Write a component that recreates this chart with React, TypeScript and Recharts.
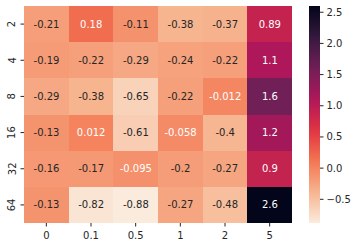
import { Bar, BarChart, Cell, XAxis, YAxis } from "recharts"

const rowLabels = ["2", "4", "8", "16", "32", "64"]
const colLabels = ["0", "0.1", "0.5", "1", "2", "5"]

const row2 = [-0.21, 0.18, -0.11, -0.38, -0.37, 0.89]
const row4 = [-0.19, -0.22, -0.29, -0.24, -0.22, 1.1]
const row8 = [-0.29, -0.38, -0.65, -0.22, -0.012, 1.6]
const row16 = [-0.13, 0.012, -0.61, -0.058, -0.4, 1.2]
const row32 = [-0.16, -0.17, -0.095, -0.2, -0.27, 0.9]
const row64 = [-0.13, -0.82, -0.88, -0.27, -0.48, 2.6]

const rows = [row2, row4, row8, row16, row32, row64]
const colorbarTicks = [-0.5, 0, 0.5, 1, 1.5, 2, 2.5]

const allValues = rows.flat()
const vmin = Math.min(...allValues)
const vmax = Math.max(...allValues)

// approximate seaborn "rocket" colormap (dark -> light)
const rocket: [number, string][] = [
  [0, "#03051a"],
  [1 / 7, "#35193e"],
  [2 / 7, "#701f57"],
  [3 / 7, "#ad1759"],
  [4 / 7, "#e13342"],
  [5 / 7, "#f37651"],
  [6 / 7, "#f6b48f"],
  [1, "#faebdd"],
]

const hexToRgb = (h: string) => [1, 3, 5].map((i) => parseInt(h.slice(i, i + 2), 16))

function rocketRgb(pos: number) {
  const p = Math.max(0, Math.min(1, pos))
  for (let i = 1; i < rocket.length; i++) {
    if (p <= rocket[i][0]) {
      const [p0, c0] = rocket[i - 1]
      const [p1, c1] = rocket[i]
      const f = (p - p0) / (p1 - p0)
      const a = hexToRgb(c0)
      const b = hexToRgb(c1)
      return a.map((v, k) => Math.round(v + (b[k] - v) * f))
    }
  }
  return hexToRgb(rocket[rocket.length - 1][1])
}

const toCss = (c: number[]) => `rgb(${c[0]},${c[1]},${c[2]})`

// rocket_r: low values light, high values dark
const valueRgb = (v: number) => rocketRgb(1 - (v - vmin) / (vmax - vmin))

function textColor(c: number[]) {
  const lin = c.map((x) => {
    const s = x / 255
    return s <= 0.03928 ? s / 12.92 : Math.pow((s + 0.055) / 1.055, 2.4)
  })
  const lum = 0.2126 * lin[0] + 0.7152 * lin[1] + 0.0722 * lin[2]
  return lum < 0.408 ? "#ffffff" : "#262626"
}

const fmtAnnot = (v: number) => String(v).replace("-", "-")

const heatData = colLabels.map((col) => {
  const entry: Record<string, string | number> = { col }
  rows.forEach((_, i) => {
    entry[`r${i}`] = 1
  })
  return entry
})

const colorbarData = [{ name: "cb", range: [vmin, vmax] }]

const font = "DejaVu Sans, sans-serif"
const ink = "#262626"

function RowTick(props: any) {
  const { x, y, payload } = props
  const label = rowLabels[rows.length - 1 - Math.floor(payload.value)]
  return (
    <text
      x={x}
      y={y}
      transform={`rotate(-90, ${x}, ${y})`}
      textAnchor="middle"
      fontSize={10}
      fontFamily={font}
      fill={ink}
    >
      {label}
    </text>
  )
}

function makeCell(rowIdx: number) {
  return (props: any) => {
    const { x, y, width, height, index } = props
    const v = rows[rowIdx][index]
    const c = valueRgb(v)
    return (
      <g>
        <rect x={x} y={y} width={width} height={height} fill={toCss(c)} shapeRendering="crispEdges" />
        <text
          x={x + width / 2}
          y={y + height / 2}
          dy="0.35em"
          textAnchor="middle"
          fontSize={10}
          fontFamily={font}
          fill={textColor(c)}
        >
          {fmtAnnot(v)}
        </text>
      </g>
    )
  }
}

export default function App() {
  const order = rows.map((_, i) => rows.length - 1 - i)
  return (
    <div style={{ position: "absolute", left: 0, top: 0, width: 358, height: 248, background: "#fff" }}>
      <div style={{ position: "absolute", left: 0, top: 0 }}>
        <BarChart
          width={358}
          height={248}
          data={heatData}
          margin={{ top: 6, right: 66, bottom: 0, left: 0 }}
          barCategoryGap={0}
          barGap={0}
        >
          <XAxis
            dataKey="col"
            axisLine={false}
            tickSize={3.5}
            tickMargin={5}
            height={25}
            tickLine={{ stroke: ink }}
            tick={{ fontSize: 10, fontFamily: font, fill: ink }}
            interval={0}
          />
          <YAxis
            type="number"
            domain={[0, rows.length]}
            ticks={rows.map((_, i) => i + 0.5)}
            axisLine={false}
            tickSize={3.5}
            tickMargin={5}
            width={24}
            tickLine={{ stroke: ink }}
            tick={<RowTick />}
          />
          {order.map((i) => (
            <Bar
              key={i}
              dataKey={`r${i}`}
              stackId="a"
              isAnimationActive={false}
              shape={makeCell(i)}
            >
              {colLabels.map((_, j) => (
                <Cell key={j} fill={toCss(valueRgb(rows[i][j]))} />
              ))}
            </Bar>
          ))}
        </BarChart>
      </div>
      <div style={{ position: "absolute", left: 309, top: 0 }}>
        <BarChart
          width={49}
          height={248}
          data={colorbarData}
          margin={{ top: 6, right: 0, bottom: 25, left: 0 }}
          barCategoryGap={0}
        >
          <defs>
            <linearGradient id="rocketGrad" x1="0" y1="0" x2="0" y2="1">
              {Array.from({ length: 21 }, (_, k) => k / 20).map((o) => (
                <stop key={o} offset={o} stopColor={toCss(rocketRgb(o))} />
              ))}
            </linearGradient>
          </defs>
          <XAxis dataKey="name" hide />
          <YAxis
            orientation="right"
            type="number"
            domain={[vmin, vmax]}
            ticks={colorbarTicks}
            axisLine={false}
            tickSize={3.5}
            tickMargin={3}
            width={38}
            tickLine={{ stroke: ink }}
            tick={{ fontSize: 10, fontFamily: font, fill: ink }}
            tickFormatter={(v: number) => (v < 0 ? "\u2212" + Math.abs(v).toFixed(1) : v.toFixed(1))}
          />
          <Bar dataKey="range" fill="url(#rocketGrad)" isAnimationActive={false} />
        </BarChart>
      </div>
    </div>
  )
}
